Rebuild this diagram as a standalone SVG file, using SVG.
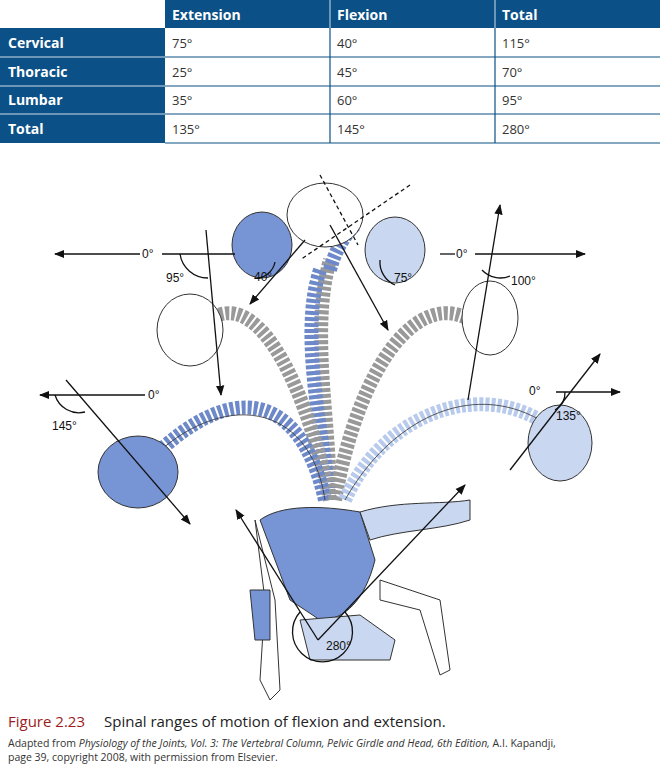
<svg xmlns="http://www.w3.org/2000/svg" width="660" height="768" viewBox="0 0 660 768">
<defs>
<style>
.hd{fill:#0b5086}
.ht{font-family:"Open Sans","DejaVu Sans",sans-serif;font-weight:bold;font-size:14px;fill:#fff}
.ct{font-family:"Open Sans","DejaVu Sans",sans-serif;font-size:13px;fill:#333}
.lb{font-family:"Liberation Sans",Arial,sans-serif;font-size:12px;fill:#111}
.ax{stroke:#111;stroke-width:1.3;fill:none}
.sk{fill:#7794d4;stroke:#333;stroke-width:1}
.skl{fill:#c9d7f0;stroke:#333;stroke-width:1}
.skw{fill:#fff;stroke:#333;stroke-width:1}
.spb{stroke:#6d89c9;stroke-width:14;fill:none;stroke-dasharray:4 2}
.spl{stroke:#b9cbec;stroke-width:14;fill:none;stroke-dasharray:4 2}
.spw{stroke:#999;stroke-width:14;fill:none;stroke-dasharray:4 2}
.spo{fill:none;stroke:#333;stroke-width:0.8}
</style>
<marker id="ah" viewBox="0 0 10 10" refX="9" refY="5" markerWidth="8" markerHeight="8" orient="auto-start-reverse"><path d="M0,1 L10,5 L0,9 z" fill="#111"/></marker>
</defs>
<rect width="660" height="768" fill="#fff"/>
<g id="table">
<rect class="hd" x="165" y="0" width="495" height="28"/>
<rect class="hd" x="0" y="28" width="165" height="115"/>
<rect x="165" y="28" width="495" height="115" fill="#fff"/>
<g stroke="#0b5086" stroke-width="1.2">
<line x1="165" y1="57" x2="660" y2="57"/><line x1="165" y1="86" x2="660" y2="86"/><line x1="165" y1="114" x2="660" y2="114"/><line x1="165" y1="143" x2="660" y2="143"/>
<line x1="330" y1="28" x2="330" y2="143"/><line x1="495" y1="28" x2="495" y2="143"/>
</g>
<g stroke="#d0dcea" stroke-width="1">
<line x1="0" y1="57" x2="165" y2="57"/><line x1="0" y1="86" x2="165" y2="86"/><line x1="0" y1="114" x2="165" y2="114"/>
<line x1="330" y1="0" x2="330" y2="28"/><line x1="495" y1="0" x2="495" y2="28"/>
</g>
<text class="ht" x="172" y="20">Extension</text><text class="ht" x="337" y="20">Flexion</text><text class="ht" x="502" y="20">Total</text>
<text class="ht" x="8" y="48">Cervical</text><text class="ht" x="8" y="77">Thoracic</text><text class="ht" x="8" y="105">Lumbar</text><text class="ht" x="8" y="134">Total</text>
<text class="ct" x="172" y="48">75°</text><text class="ct" x="337" y="48">40°</text><text class="ct" x="502" y="48">115°</text>
<text class="ct" x="172" y="77">25°</text><text class="ct" x="337" y="77">45°</text><text class="ct" x="502" y="77">70°</text>
<text class="ct" x="172" y="105">35°</text><text class="ct" x="337" y="105">60°</text><text class="ct" x="502" y="105">95°</text>
<text class="ct" x="172" y="134">135°</text><text class="ct" x="337" y="134">145°</text><text class="ct" x="502" y="134">280°</text>
</g>
<g id="figure">
<path class="spw" d="M330,500 C330,420 310,330 330,260"/>
<path class="spb" d="M330,500 C320,420 300,330 320,270"/>
<path class="spw" d="M330,500 C300,360 250,290 210,320"/>
<path class="spb" d="M325,500 C300,390 230,380 150,460"/>
<path class="spw" d="M335,500 C360,360 420,290 470,320"/>
<path class="spl" d="M345,500 C380,420 470,380 540,420"/>
<path class="spb" d="M330,270 C335,250 345,235 355,225"/>
<path class="spo" d="M150,460 C220,390 310,400 325,500"/>
<path class="spo" d="M345,500 C390,420 470,380 540,420"/>
<ellipse class="skw" cx="325" cy="215" rx="38" ry="32"/>
<ellipse class="sk" cx="262" cy="245" rx="30" ry="33"/>
<ellipse class="skl" cx="395" cy="250" rx="30" ry="33"/>
<ellipse class="skw" cx="190" cy="330" rx="33" ry="36"/>
<ellipse class="skw" cx="490" cy="318" rx="28" ry="37"/>
<ellipse class="sk" cx="138" cy="472" rx="40" ry="36"/>
<ellipse class="skl" cx="560" cy="443" rx="32" ry="38"/>
<path d="M260,520 C280,505 320,505 360,512 L375,560 C365,600 345,620 320,620 L290,600 Z" fill="#7794d4" stroke="#333" stroke-width="1"/>
<path d="M360,512 C400,500 440,505 470,500 L470,520 C440,530 400,530 370,540 Z" fill="#c9d7f0" stroke="#333" stroke-width="1"/>
<path d="M255,520 L265,600 L260,680 L270,700 L280,690 L275,600 Z" fill="#fff" stroke="#333" stroke-width="1"/>
<path d="M250,590 L270,590 L270,640 L255,640 Z" fill="#7794d4" stroke="#333" stroke-width="1"/>
<path d="M300,620 L310,660 L390,660 L395,640 L360,615 Z" fill="#c9d7f0" stroke="#333" stroke-width="1"/>
<path d="M380,580 L440,600 L450,670 L440,675 L420,610 L380,600 Z" fill="#fff" stroke="#333" stroke-width="1"/>
</g>
<g id="connectors">
<line class="ax" x1="140" y1="254" x2="55" y2="254" marker-end="url(#ah)"/>
<line class="ax" x1="162" y1="254" x2="235" y2="254"/>
<line class="ax" x1="206" y1="230" x2="221" y2="395" marker-end="url(#ah)"/>
<path class="ax" d="M180,254 A28,28 0 0 0 208,278"/>
<line class="ax" x1="305" y1="240" x2="250" y2="304" marker-end="url(#ah)"/>
<path class="ax" d="M258,278 A20,20 0 0 0 275,262"/>
<line class="ax" x1="320" y1="175" x2="358" y2="245" stroke-dasharray="4 3"/>
<line class="ax" x1="410" y1="185" x2="300" y2="260" stroke-dasharray="4 3"/>
<line class="ax" x1="330" y1="225" x2="388" y2="330" marker-end="url(#ah)"/>
<path class="ax" d="M380,260 A25,25 0 0 0 395,285"/>
<line class="ax" x1="440" y1="254" x2="455" y2="254"/>
<line class="ax" x1="475" y1="254" x2="585" y2="254" marker-end="url(#ah)"/>
<line class="ax" x1="468" y1="400" x2="500" y2="205" marker-end="url(#ah)"/>
<path class="ax" d="M482,270 A25,25 0 0 0 510,276"/>
<line class="ax" x1="145" y1="395" x2="40" y2="395" marker-end="url(#ah)"/>
<line class="ax" x1="66" y1="380" x2="190" y2="524" marker-end="url(#ah)"/>
<path class="ax" d="M55,395 A25,25 0 0 0 85,412"/>
<line class="ax" x1="556" y1="392" x2="620" y2="392" marker-end="url(#ah)"/>
<line class="ax" x1="510" y1="470" x2="600" y2="354" marker-end="url(#ah)"/>
<path class="ax" d="M565,392 A20,20 0 0 1 555,410"/>
<line class="ax" x1="318" y1="640" x2="236" y2="510" marker-end="url(#ah)"/>
<line class="ax" x1="318" y1="640" x2="465" y2="485" marker-end="url(#ah)"/>
<path class="ax" d="M300,612 A30,30 0 1 0 345,612"/>
</g>
<g id="labels">
<text class="lb" x="142" y="258">0°</text>
<text class="lb" x="166" y="282">95°</text>
<text class="lb" x="254" y="281">40°</text>
<text class="lb" x="394" y="282">75°</text>
<text class="lb" x="456" y="258">0°</text>
<text class="lb" x="511" y="285">100°</text>
<text class="lb" x="148" y="399">0°</text>
<text class="lb" x="52" y="430">145°</text>
<text class="lb" x="529" y="395">0°</text>
<text class="lb" x="556" y="420">135°</text>
<text class="lb" x="326" y="650">280°</text>
</g>
<g id="caption">
<text x="8" y="727" font-family="'Open Sans','DejaVu Sans',sans-serif" font-size="15" fill="#9b1c1c">Figure 2.23</text>
<text x="104" y="727" font-family="'Open Sans','DejaVu Sans',sans-serif" font-size="15" fill="#222">Spinal ranges of motion of flexion and extension.</text>
<text x="8" y="747" font-family="'Open Sans','DejaVu Sans',sans-serif" font-size="10.5" fill="#333">Adapted from <tspan font-style="italic">Physiology of the Joints, Vol. 3: The Vertebral Column, Pelvic Girdle and Head, 6th Edition,</tspan> A.I. Kapandji,</text>
<text x="8" y="761" font-family="'Open Sans','DejaVu Sans',sans-serif" font-size="10.5" fill="#333">page 39, copyright 2008, with permission from Elsevier.</text>
</g>
</svg>
